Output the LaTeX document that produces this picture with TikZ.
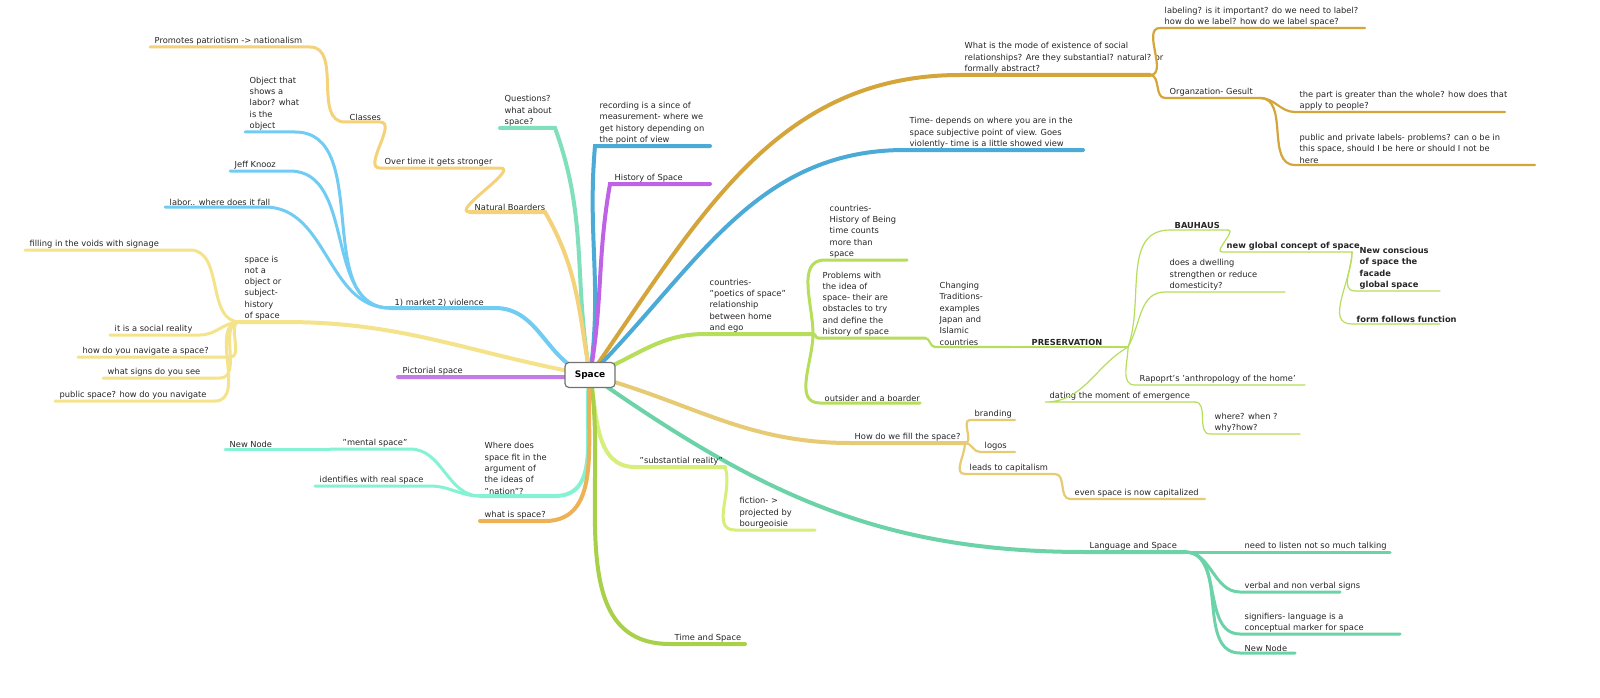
\documentclass[tikz,border=0pt]{standalone}
\usepackage{fontspec}
\setmainfont{DejaVu Sans}
\definecolor{gold}{HTML}{D4A53A}
\definecolor{blue}{HTML}{4BAAD6}
\definecolor{ltblue}{HTML}{70CCF2}
\definecolor{grn}{HTML}{B6DE5A}
\definecolor{tan}{HTML}{E6CB74}
\definecolor{teal}{HTML}{6CD3A9}
\definecolor{ygrn}{HTML}{D6EE7A}
\definecolor{lime}{HTML}{A8D048}
\definecolor{purp}{HTML}{C37BEA}
\definecolor{purp2}{HTML}{BF62E6}
\definecolor{aqua}{HTML}{85F2D4}
\definecolor{orng}{HTML}{EDB256}
\definecolor{yel}{HTML}{F5E38C}
\definecolor{yor}{HTML}{F4D27A}
\definecolor{qteal}{HTML}{80E0BC}
\tikzset{lbl/.style={font=\fontsize{8.3}{11.3}\selectfont, align=left, inner sep=1.5pt, text=black!85}}
% right-going branch: parent, name, x1, x2, y, color, width, text, to-options
\newcommand\R[9]{%
 \coordinate (#2-a) at (#3,#5); \coordinate (#2-b) at (#4,#5);
 \node[lbl, anchor=south west, xshift=3pt] (#2) at (#2-a) {#8};
 \draw[#6, line width=#7, line cap=round] (#1) to[#9] (#2-a) -- (#2-b);}
% left-going branch
\newcommand\Lb[9]{%
 \coordinate (#2-a) at (#3,#5); \coordinate (#2-b) at (#4,#5);
 \node[lbl, anchor=south west, xshift=3pt] (#2) at (#2-a) {#8};
 \draw[#6, line width=#7, line cap=round] (#1) to[#9] (#2-b) -- (#2-a);}
\begin{document}
\begin{tikzpicture}[x=1pt,y=-1pt]
\useasboundingbox[fill=white] (0,0) rectangle (1600,698);
\coordinate (c) at (590,375);
% ---------- right side
\R{c}{mode}{960}{1150}{75}{gold}{4}{What is the mode of existence of social\\relationships? Are they substantial? natural? or\\formally abstract?}{out=55,in=180}
\R{mode-b}{lab}{1160}{1365}{28}{gold}{2.2}{labeling? is it important? do we need to label?\\how do we label? how do we label space?}{out=0,in=180}
\R{mode-b}{org}{1165}{1260}{98}{gold}{2.2}{Organzation- Gesult}{out=0,in=180}
\R{org-b}{part}{1295}{1505}{112}{gold}{2.2}{the part is greater than the whole? how does that\\apply to people?}{out=0,in=180}
\R{org-b}{pub}{1295}{1535}{165}{gold}{2.2}{public and private labels- problems? can o be in\\this space, should I be here or should I not be\\here}{out=0,in=180}
\R{c}{time}{905}{1083}{150}{blue}{4}{Time- depends on where you are in the\\space subjective point of view. Goes\\violently- time is a little showed view}{out=45,in=180}
\R{c}{poet}{705}{813}{334}{grn}{4}{countries-\\"poetics of space"\\relationship\\between home\\and ego}{out=20,in=180}
\R{poet-b}{hist}{825}{907}{260}{grn}{3}{countries-\\History of Being\\time counts\\more than\\space}{out=90,in=180}
\R{poet-b}{prob}{818}{925}{338}{grn}{3}{Problems with\\the idea of\\space- their are\\obstacles to try\\and define the\\history of space}{out=0,in=180}
\R{poet-b}{out}{820}{920}{403}{grn}{3}{outsider and a boarder}{out=-90,in=180}
\R{prob-b}{chg}{935}{1010}{347}{grn}{2.2}{Changing\\Traditions-\\examples\\Japan and\\Islamic\\countries}{out=0,in=180}
\coordinate (pres-a) at (1010,347); \coordinate (pres-b) at (1128,347);
\node[lbl, anchor=south, font=\fontsize{8.3}{11}\selectfont\bfseries] (pres) at (1067,347) {PRESERVATION};
\draw[grn, line width=2.2, line cap=round] (pres-a) -- (pres-b);
\R{pres-b}{bau}{1170}{1228}{230}{grn}{1.2}{\bfseries BAUHAUS}{out=70,in=180}
\R{bau-b}{ngc}{1222}{1352}{252}{grn}{1.2}{\bfseries new global concept of space}{out=0,in=180}
\R{ngc-b}{ncs}{1355}{1440}{291}{grn}{1.2}{\bfseries New conscious\\\bfseries of space the\\\bfseries facade\\\bfseries global space}{out=-90,in=180}
\R{ngc-b}{fff}{1352}{1440}{324}{grn}{1.2}{\bfseries form follows function}{out=-90,in=180}
\R{pres-b}{dwell}{1165}{1285}{292}{grn}{1.2}{does a dwelling\\strengthen or reduce\\domesticity?}{out=60,in=180}
\R{pres-b}{rap}{1135}{1305}{385}{grn}{1.2}{Rapoprt's 'anthropology of the home'}{out=-90,in=180}
\coordinate (dat-a) at (1045,402); \coordinate (dat-b) at (1195,402);
\node[lbl, anchor=south west, xshift=3pt] (dat) at (dat-a) {dating the moment of emergence};
\draw[grn, line width=1.2, line cap=round] (pres-b) to[out=-150,in=0] (dat-a) -- (dat-b);
\R{dat-b}{where}{1210}{1300}{434}{grn}{1.2}{where? when ?\\why?how?}{out=0,in=180}
\R{c}{fill}{850}{965}{443}{tan}{4}{How do we fill the space?}{out=-15,in=180}
\R{fill-b}{brand}{970}{1015}{420}{tan}{2.2}{branding}{out=0,in=180}
\R{fill-b}{logos}{980}{1015}{452}{tan}{2.2}{logos}{out=0,in=180}
\R{fill-b}{cap}{965}{1055}{474}{tan}{2.2}{leads to capitalism}{out=-90,in=180}
\R{cap-b}{capd}{1070}{1205}{499}{tan}{2.2}{even space is now capitalized}{out=0,in=180}
\R{c}{lang}{1085}{1185}{552}{teal}{4}{Language and Space}{out=-35,in=180}
\R{lang-b}{listen}{1240}{1390}{552}{teal}{3}{need to listen not so much talking}{out=0,in=180}
\R{lang-b}{verbal}{1240}{1340}{592}{teal}{3}{verbal and non verbal signs}{out=0,in=180}
\R{lang-b}{signif}{1240}{1400}{634}{teal}{3}{signifiers- language is a\\conceptual marker for space}{out=0,in=180}
\R{lang-b}{nn2}{1240}{1295}{653}{teal}{3}{New Node}{out=0,in=180}
\R{c}{subst}{635}{725}{467}{ygrn}{4}{"substantial reality"}{out=-80,in=180}
\R{subst-b}{fict}{735}{815}{530}{ygrn}{3}{fiction- >\\projected by\\bourgeoisie}{out=-70,in=180}
\R{c}{tas}{670}{745}{644}{lime}{4}{Time and Space}{out=-80,in=180}
% ---------- upper middle
\R{c}{rec}{595}{710}{146}{blue}{4}{recording is a since of\\measurement- where we\\get history depending on\\the point of view}{out=82,in=-95}
\R{c}{hos}{610}{710}{184}{purp2}{4}{History of Space}{out=80,in=-100}
\Lb{c}{quest}{500}{555}{128}{qteal}{4}{Questions?\\what about\\space?}{out=100,in=-70}
\Lb{c}{nat}{470}{545}{212}{yor}{4}{Natural Boarders}{out=100,in=-60}
\Lb{nat-a}{over}{380}{500}{168}{yor}{3}{Over time it gets stronger}{out=180,in=0}
\Lb{over-a}{cls}{345}{380}{122}{yor}{3}{Classes}{out=180,in=0}
\Lb{cls-a}{patr}{150}{310}{47}{yor}{3}{Promotes patriotism -> nationalism}{out=180,in=0}
% ---------- left side
\Lb{c}{mkt}{390}{495}{308}{ltblue}{4}{1) market 2) violence}{out=165,in=0}
\Lb{mkt-a}{labor}{165}{265}{207}{ltblue}{3}{labor.. where does it fall}{out=180,in=0}
\Lb{mkt-a}{jeff}{230}{290}{171}{ltblue}{3}{Jeff Knooz}{out=180,in=0}
\Lb{mkt-a}{obj}{245}{295}{132}{ltblue}{3}{Object that\\shows a\\labor? what\\is the\\object}{out=180,in=0}
\Lb{c}{sp}{240}{285}{322}{yel}{4}{space is\\not a\\object or\\subject-\\history\\of space}{out=170,in=0}
\Lb{sp-a}{voids}{25}{190}{250}{yel}{3}{filling in the voids with signage}{out=180,in=0}
\Lb{sp-a}{soc}{110}{200}{335}{yel}{3}{it is a social reality}{out=180,in=0}
\Lb{sp-a}{nav}{78}{230}{357}{yel}{3}{how do you navigate a space?}{out=180,in=0}
\Lb{sp-a}{signs}{103}{220}{378}{yel}{3}{what signs do you see}{out=180,in=0}
\Lb{sp-a}{publ}{55}{215}{401}{yel}{3}{public space? how do you navigate}{out=180,in=0}
\Lb{c}{pict}{398}{570}{377}{purp}{4}{Pictorial space}{out=180,in=0}
\Lb{c}{nation}{480}{555}{496}{aqua}{4}{Where does\\space fit in the\\argument of\\the ideas of\\"nation"?}{out=-100,in=0}
\Lb{nation-a}{ident}{315}{430}{486}{aqua}{3}{identifies with real space}{out=180,in=0}
\Lb{nation-a}{ment}{330}{410}{449}{aqua}{3}{\hspace*{8pt}"mental space"}{out=180,in=0}
\Lb{ment-a}{nn1}{225}{330}{449}{aqua}{3}{New Node}{out=180,in=0}
\Lb{c}{what}{480}{545}{521}{orng}{4}{what is space?}{out=-95,in=0}
% ---------- centre
\node[draw=black!55, line width=1.2pt, rounded corners=4pt, fill=white, minimum width=50pt, minimum height=25pt, font=\fontsize{9}{11}\selectfont\bfseries] (space) at (c) {Space};
\end{tikzpicture}
\end{document}
